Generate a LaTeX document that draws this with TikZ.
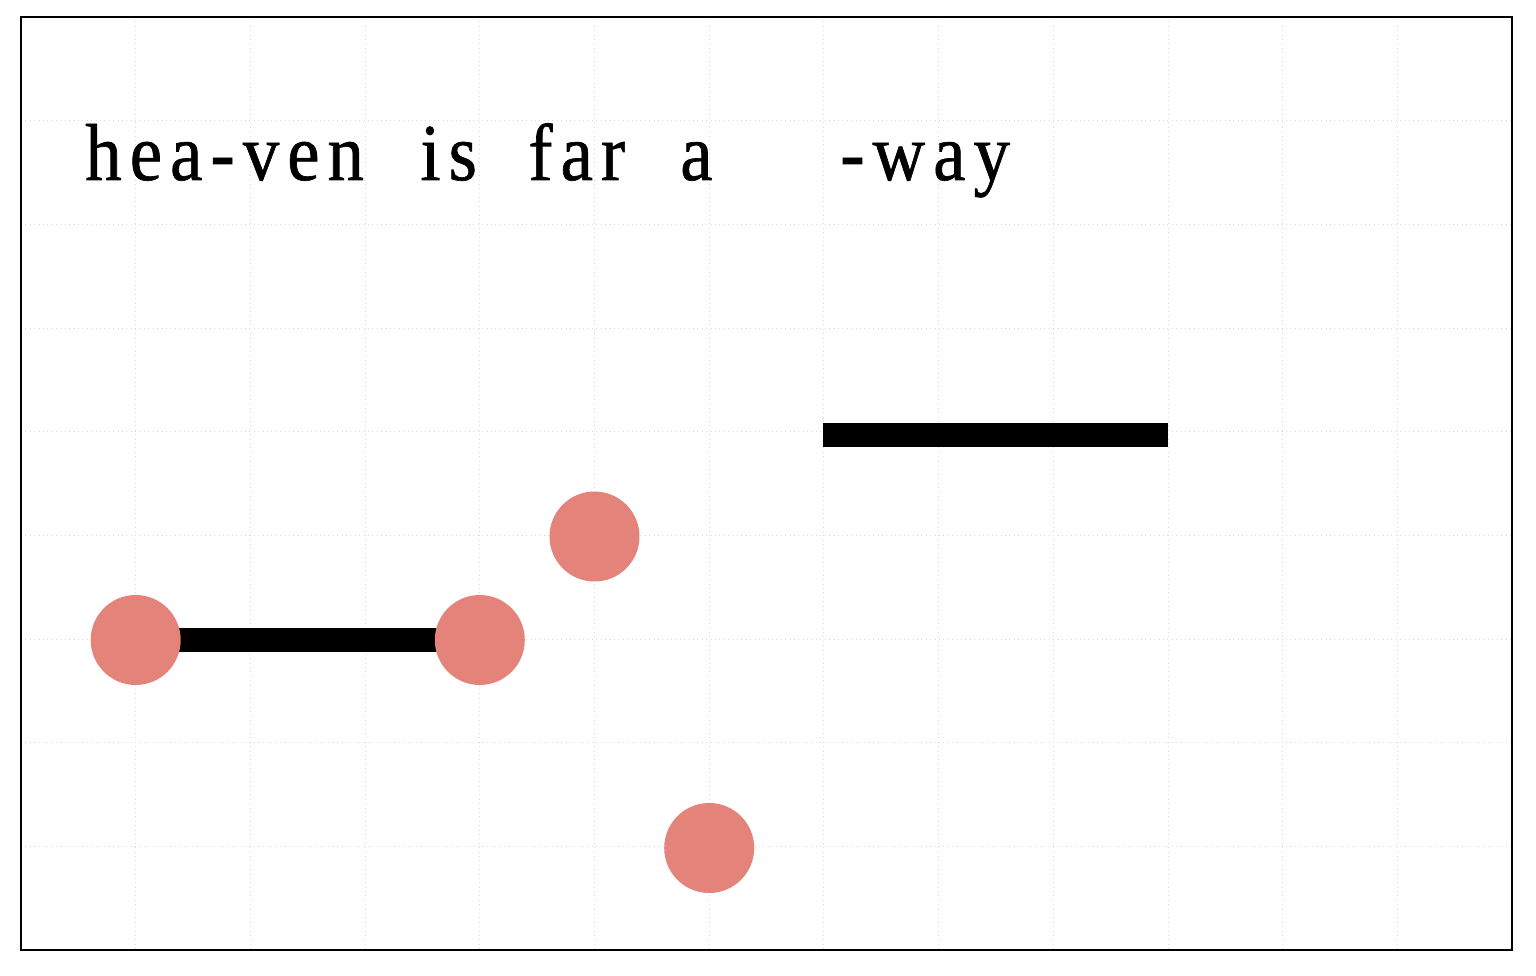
\documentclass[tikz,border=0pt]{standalone}
\usepackage{fontspec}
\setmainfont[LetterSpace=10, FakeStretch=0.9, FakeBold=0.8]{Liberation Serif}
\usepackage{tikz}

\definecolor{notecol}{HTML}{E4837A}
\tikzset{
    grid line/.style={draw=black!15, line width=0.5pt, dotted},
    note/.style={circle, fill=notecol, minimum size=1.8cm, inner sep=0pt},
    bar/.style={line width=0.48cm, line cap=butt},
    lyric/.style={anchor=base west, inner sep=0pt, font=\fontsize{46}{50}\selectfont}
}

\begin{document}
\begin{tikzpicture}[x=0.02cm, y=-0.02cm]
        \useasboundingbox (0,0) rectangle (1536,976);
        % Draw grid
        \foreach \i in {1,...,12}
            \draw[grid line] ({21+114.7*\i},17) -- ({21+114.7*\i},950);
        \foreach \j in {1,...,8}
            \draw[grid line] (21,{17+103.7*\j}) -- (1512,{17+103.7*\j});
        \draw[line width=1.1pt] (21,17) rectangle (1512,950);

        % Lyrics
        \node[lyric] (hea) at (85,180) {hea-ven};
        \node[lyric] (is) at (420,180) {is};
        \node[lyric] (far) at (528,180) {far};
        \node[lyric] (a) at (680,180) {a};
        \node[lyric] (way) at (840,180) {-way};

        % Draw notes
        \coordinate (heaS) at (135.7,640);
        \coordinate (venS) at (479.8,640);
        \coordinate (wayS) at (823,435);
        \coordinate (wayE) at (1168,435);
        \draw[bar] (heaS) -- (venS);
        \draw[bar] (wayS) -- (wayE);
        \node[note] (n1) at (heaS) {};
        \node[note] (n2) at (venS) {};
        \node[note] (n3) at (594.5,536.5) {};
        \node[note] (n4) at (709.2,848) {};
    \end{tikzpicture}
\end{document}
